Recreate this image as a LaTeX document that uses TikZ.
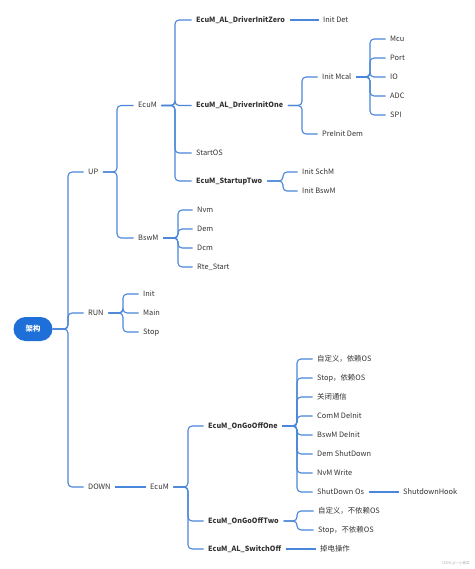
\documentclass[tikz,border=0pt]{standalone}
\usepackage{fontspec}
\setmainfont{Noto Sans CJK SC}
\definecolor{lnc}{HTML}{4A86D9}
\definecolor{txc}{HTML}{333333}
\definecolor{rootc}{HTML}{1F6FD8}
\newcommand\mmbranch[3]{\draw[ln] (#1.east) -- (#1.east -| #2) |- (#3.west);}
\newcommand\mmline[2]{\draw[ln] (#1.east) -- (#2.west);}
\begin{document}
\begin{tikzpicture}[x=1pt,y=-1pt,
  t/.style={anchor=west,inner xsep=4.5pt,inner ysep=1pt,text height=6pt,text depth=1.6pt,
    font=\fontsize{7.4}{9}\selectfont,text=txc},
  b/.style={t,font=\fontsize{7.2}{9}\selectfont\bfseries},
  ln/.style={draw=lnc,line width=1.1pt,rounded corners=4pt}]
\useasboundingbox[fill=white] (0,0) rectangle (474,569);
% root
\node[fill=rootc,text=white,rounded corners=12pt,minimum width=39pt,minimum height=24pt,
  inner sep=0pt,font=\fontsize{7.4}{9}\selectfont\bfseries] (root) at (33,329) {架构};
% level 1
\node[t] (up) at (83.5,172) {UP};
\node[t] (run) at (83.5,313) {RUN};
\node[t] (down) at (83.5,487) {DOWN};
% UP subtree
\node[t] (ecum) at (133.5,105.5) {EcuM};
\node[t] (bswm) at (133.5,238) {BswM};
\node[b] (z) at (191.5,20) {EcuM\_AL\_DriverInitZero};
\node[b] (one) at (191.5,105.5) {EcuM\_AL\_DriverInitOne};
\node[t] (startos) at (191.5,153) {StartOS};
\node[b] (two) at (191.5,181) {EcuM\_StartupTwo};
\node[t] (det) at (318.5,20) {Init Det};
\node[t] (mcal) at (317.5,77) {Init Mcal};
\node[t] (predem) at (317.5,134) {PreInit Dem};
\node[t] (mcu) at (385.5,39) {Mcu};
\node[t] (port) at (385.5,58) {Port};
\node[t] (io) at (385.5,77) {IO};
\node[t] (adc) at (385.5,96) {ADC};
\node[t] (spi) at (385.5,115) {SPI};
\node[t] (schm) at (297.5,172) {Init SchM};
\node[t] (bswmi) at (297.5,191) {Init BswM};
\node[t] (nvm) at (192.5,210) {Nvm};
\node[t] (dem) at (192.5,229) {Dem};
\node[t] (dcm) at (192.5,248) {Dcm};
\node[t] (rte) at (192.5,267) {Rte\_Start};
% RUN subtree
\node[t] (init) at (138.5,294) {Init};
\node[t] (main) at (138.5,313) {Main};
\node[t] (stop) at (138.5,332) {Stop};
% DOWN subtree
\node[t] (decum) at (145.5,487) {EcuM};
\node[b] (off1) at (203.5,426) {EcuM\_OnGoOffOne};
\node[b] (off2) at (203.5,521) {EcuM\_OnGoOffTwo};
\node[b] (swoff) at (203.5,549) {EcuM\_AL\_SwitchOff};
\node[t] (a1) at (312.5,359) {自定义，依赖OS};
\node[t] (a2) at (312.5,378) {Stop，依赖OS};
\node[t] (a3) at (312.5,397) {关闭通信};
\node[t] (a4) at (312.5,416) {ComM DeInit};
\node[t] (a5) at (312.5,435) {BswM DeInit};
\node[t] (a6) at (312.5,454) {Dem ShutDown};
\node[t] (a7) at (312.5,473) {NvM Write};
\node[t] (a8) at (312.5,492) {ShutDown Os};
\node[t] (hook) at (398.5,492) {ShutdownHook};
\node[t] (b1) at (313.5,511) {自定义，不依赖OS};
\node[t] (b2) at (313.5,530) {Stop，不依赖OS};
\node[t] (pw) at (315.5,549) {掉电操作};
% watermark
\node[anchor=east,inner sep=0pt,text=black!30,font=\fontsize{3.6}{4}\selectfont] (wm) at (470,563) {CSDN @一小破菜};
% vertical bar positions
\coordinate (v0) at (68,0);
\coordinate (vup) at (117,0);
\coordinate (vecum) at (175,0);
\coordinate (vone) at (302,0);
\coordinate (vmcal) at (370,0);
\coordinate (vtwo) at (283,0);
\coordinate (vbswm) at (178,0);
\coordinate (vrun) at (123,0);
\coordinate (vdecum) at (188,0);
\coordinate (voff1) at (297,0);
\coordinate (voff2) at (297,0);
% connectors
\foreach \c in {up,run,down} {\mmbranch{root}{v0}{\c}}
\foreach \c in {ecum,bswm} {\mmbranch{up}{vup}{\c}}
\foreach \c in {z,one,startos,two} {\mmbranch{ecum}{vecum}{\c}}
\mmline{z}{det}
\foreach \c in {mcal,predem} {\mmbranch{one}{vone}{\c}}
\foreach \c in {mcu,port,io,adc,spi} {\mmbranch{mcal}{vmcal}{\c}}
\foreach \c in {schm,bswmi} {\mmbranch{two}{vtwo}{\c}}
\foreach \c in {nvm,dem,dcm,rte} {\mmbranch{bswm}{vbswm}{\c}}
\foreach \c in {init,main,stop} {\mmbranch{run}{vrun}{\c}}
\mmline{down}{decum}
\foreach \c in {off1,off2,swoff} {\mmbranch{decum}{vdecum}{\c}}
\foreach \c in {a1,a2,a3,a4,a5,a6,a7,a8} {\mmbranch{off1}{voff1}{\c}}
\mmline{a8}{hook}
\foreach \c in {b1,b2} {\mmbranch{off2}{voff2}{\c}}
\mmline{swoff}{pw}
\end{tikzpicture}
\end{document}
